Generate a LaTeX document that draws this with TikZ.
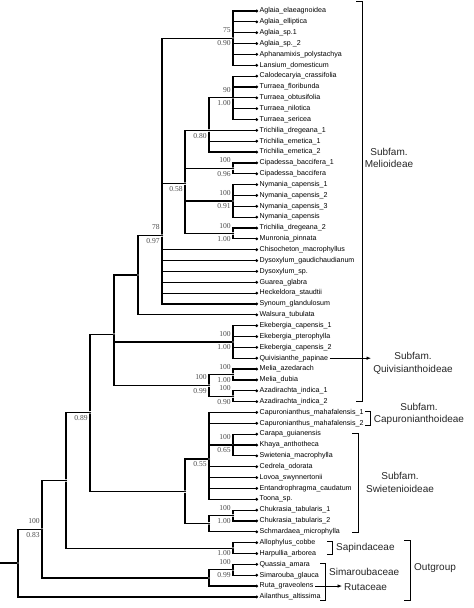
\documentclass[tikz,border=0pt]{standalone}
\usepackage{fontspec}
\setmainfont{Liberation Sans}
\newfontfamily\supportfont{Liberation Serif}
\usetikzlibrary{arrows.meta,positioning}

\begin{document}
\begin{tikzpicture}[x=1pt,y=-1pt,
      branch/.style={line width=1.2pt},
      tipline/.style={branch,-{Circle[length=2.6pt]}},
      junction/.style={
         circle,
         fill=black,
         inner sep=0pt,
         minimum size=2.2pt},
      taxon/.style={anchor=west, inner sep=1.5pt, font=\fontsize{7.1}{8}\selectfont},
      support/.style={inner sep=0.5pt, text=black!70, font=\supportfont\fontsize{7.6}{8}\selectfont},
      clade/.style={line width=0.9pt},
      group/.style={align=center, inner sep=2pt, text=black!85, font=\fontsize{10}{12.5}\selectfont},
      pointer/.style={line width=0.7pt,-{Latex[length=4.5pt,width=3.5pt]}}
      ]
      \useasboundingbox (0,0) rectangle (474,608);

      % taxa, top to bottom
      \foreach \name [count=\i] in {Aglaia\_elaeagnoidea, Aglaia\_elliptica, Aglaia\_sp.1, Aglaia\_sp.\_2,
          Aphanamixis\_polystachya, Lansium\_domesticum, Calodecaryia\_crassifolia, Turraea\_floribunda,
          Turraea\_obtusifolia, Turraea\_nilotica, Turraea\_sericea, Trichilia\_dregeana\_1,
          Trichilia\_emetica\_1, Trichilia\_emetica\_2, Cipadessa\_baccifera\_1, Cipadessa\_baccifera,
          Nymania\_capensis\_1, Nymania\_capensis\_2, Nymania\_capensis\_3, Nymania\_capensis,
          Trichilia\_dregeana\_2, Munronia\_pinnata, Chisocheton\_macrophyllus, Dysoxylum\_gaudichaudianum,
          Dysoxylum\_sp., Guarea\_glabra, Heckeldora\_staudtii, Synoum\_glandulosum, Walsura\_tubulata,
          Ekebergia\_capensis\_1, Ekebergia\_pterophylla, Ekebergia\_capensis\_2, Quivisianthe\_papinae,
          Melia\_azedarach, Melia\_dubia, Azadirachta\_indica\_1, Azadirachta\_indica\_2,
          Capuronianthus\_mahafalensis\_1, Capuronianthus\_mahafalensis\_2, Carapa\_guianensis,
          Khaya\_anthotheca, Swietenia\_macrophylla, Cedrela\_odorata, Lovoa\_swynnertonii,
          Entandrophragma\_caudatum, Toona\_sp., Chukrasia\_tabularis\_1, Chukrasia\_tabularis\_2,
          Schmardaea\_microphylla, Allophylus\_cobbe, Harpullia\_arborea, Quassia\_amara,
          Simarouba\_glauca, Ruta\_graveolens, Ailanthus\_altissima}
        \node[taxon] (t\i) at (258,{11+(\i-1)*10.85}) {\name};

      % internal nodes
      \node[junction] (aglaia) at (233,38.1) {};
      \node[junction] (turraea) at (233,97.8) {};
      \node[junction] (n080) at (209,130.35) {};
      \node[junction] (cipad) at (233,168.3) {};
      \node[junction] (nymania) at (233,200.9) {};
      \node[junction] (munron) at (233,233.4) {};
      \node[junction] (n058) at (185,183.2) {};
      \node[junction] (n078) at (162,235.3) {};
      \node[junction] (n137) at (138,275.05) {};
      \node[junction] (ekeb) at (233,341.9) {};
      \node[junction] (melia) at (233,374.5) {};
      \node[junction] (azad) at (233,396.2) {};
      \node[junction] (meliaz) at (209,385.3) {};
      \node[junction] (n114) at (114,334.1) {};
      \node[junction] (carapa) at (233,445) {};
      \node[junction] (n055) at (209,458.95) {};
      \node[junction] (chukr) at (233,515.5) {};
      \node[junction] (chukschm) at (209,523.65) {};
      \node[junction] (swiet) at (185,491.3) {};
      \node[junction] (n089) at (90,412.7) {};
      \node[junction] (sapind) at (233,548.1) {};
      \node[junction] (n066) at (66,480.4) {};
      \node[junction] (simar) at (233,569.8) {};
      \node[junction] (simruta) at (209,577.9) {};
      \node[junction] (n100) at (42,529.15) {};
      \node[junction] (root) at (18,563) {};
      \coordinate (stem) at (0,563);

    \foreach \p/\a/\b in {% parent/first taxon/last taxon
      aglaia/1/6, turraea/7/11, n080/12/14, cipad/15/16, nymania/17/20, munron/21/22,
      n078/23/28, n137/29/29, ekeb/30/33, melia/34/35, azad/36/37, n055/38/39, carapa/40/42,
      n055/43/46, chukr/47/48, chukschm/49/49, sapind/50/51, simar/52/53, simruta/54/54, root/55/55}
      \foreach \c in {\a,...,\b}
        \draw[tipline] (\p) |- (t\c.west);

    \foreach \p/\c in {% parent/child
      n080/turraea, n058/n080, n058/cipad, n058/nymania, n058/munron, n078/aglaia, n078/n058,
      n137/n078, n114/n137, n114/ekeb, n114/meliaz, meliaz/melia, meliaz/azad, n089/n114,
      n089/swiet, swiet/n055, swiet/chukschm, n055/carapa, chukschm/chukr, n066/n089,
      n066/sapind, n100/n066, n100/simruta, simruta/simar, root/n100}
      \draw[branch] (\p) |- (\c);
\draw[branch] (stem) -- (root);

    % bootstrap above, posterior below
    \foreach \n/\v in {aglaia/75, turraea/90, cipad/100, nymania/100, munron/100, n078/78,
      ekeb/100, melia/100, azad/100, meliaz/100, carapa/100, chukr/100, simar/100, n100/100}
      \node[support, above left=3.7pt and 0.7pt of \n] (\n-bs) {\v};
    \foreach \n/\v in {aglaia/0.90, turraea/1.00, n080/0.80, cipad/0.96, nymania/0.91,
      munron/1.00, n058/0.58, n078/0.97, ekeb/1.00, melia/1.00, azad/0.90, meliaz/0.99,
      n089/0.89, carapa/0.65, n055/0.55, chukr/1.00, sapind/1.00, simar/0.99, n100/0.83}
      \node[support, below left=1.2pt and 0.7pt of \n] (\n-pp) {\v};

\node[group] (melio) at (389,158) {Subfam.\\Melioideae};
\node[group] (quivi) at (413,363.5) {Subfam.\\Quivisianthoideae};
\node[group] (capur) at (419,414) {Subfam.\\Capuronianthoideae};
\node[group] (swietlab) at (400,482.5) {Subfam.\\Swietenioideae};
\node[group, anchor=west] (sapindlab) at (334,547.5) {Sapindaceae};
\node[group, anchor=west] (simarlab) at (327,572) {Simaroubaceae};
\node[group, anchor=west] (rutalab) at (342,587) {Rutaceae};
\node[group, anchor=west] (outgroup) at (412,568) {Outgroup};

\draw[clade] (356,1.5) -- (362,1.5) -- (362,401.5) -- (356,401.5);
\draw[clade] (365,411) -- (370,411) -- (370,425) -- (365,425);
\draw[clade] (352,433) -- (358,433) -- (358,532) -- (352,532);
\draw[clade] (327,541) -- (332,541) -- (332,554) -- (327,554);
\draw[clade] (320,563) -- (325,563) -- (325,600) -- (320,600);
\draw[clade] (404,540) -- (410,540) -- (410,600) -- (404,600);

\draw[pointer] (t33.east) -- (t33.east -| quivi.west);
\draw[pointer] (t54.east) -- (t54.east -| rutalab.west);
    \end{tikzpicture}
\end{document}
